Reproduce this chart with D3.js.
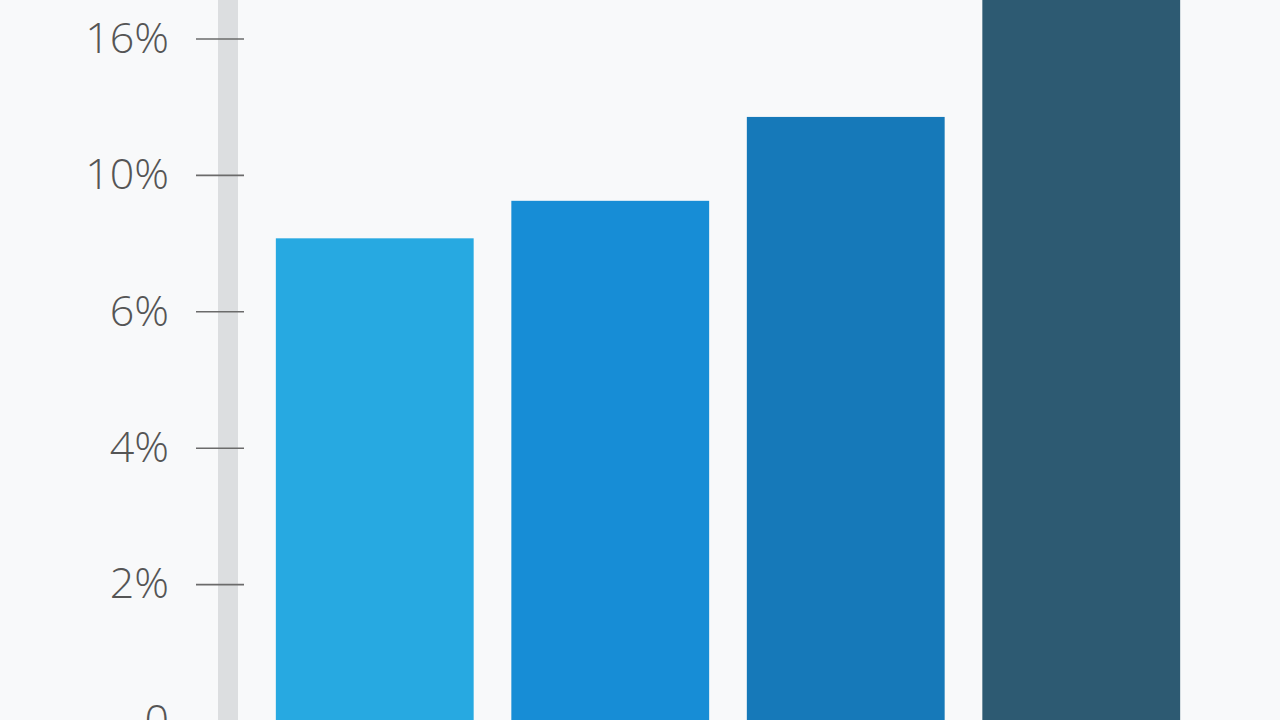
<!DOCTYPE html>
<html>
<head>
<meta charset="utf-8">
<script src="https://cdn.jsdelivr.net/npm/d3@7"></script>
<style>
  html, body { margin: 0; padding: 0; background: #f8f9fa; overflow: hidden; }
  svg { display: block; }
</style>
</head>
<body>
<div id="chart"></div>
<script>
// 데이터 (그림에서 읽은 값, 축 단위)
const categories = ["A", "B", "C", "D"];
const values = [7.07, 7.62, 8.85, 12.0];
const barColors = ["#27a9e1", "#178dd6", "#1679b9", "#2d5a72"];
const tickValues = [0, 2, 4, 6, 8, 10];
const tickLabels = ["0", "2%", "4%", "6%", "10%", "16%"];

const WIDTH = 1280, HEIGHT = 720;

const svg = d3.select('#chart')
  .append('svg')
  .attr('width', WIDTH)
  .attr('height', HEIGHT)
  .style('background', '#f8f9fa');

// 스케일
const x = d3.scaleBand()
  .domain(categories)
  .range([257, 1199])
  .paddingInner(0.16)
  .paddingOuter(0.08);

const y = d3.scaleLinear()
  .domain([0, 10])
  .range([720.5, 38.5]);

// 축 뒤 회색 띠
svg.append('rect')
  .attr('x', 218).attr('y', 0)
  .attr('width', 20).attr('height', HEIGHT)
  .attr('fill', '#dcdee0');

// 막대
svg.selectAll('.bar')
  .data(values)
  .join('rect')
  .attr('class', 'bar')
  .attr('x', (d, i) => x(categories[i]))
  .attr('y', d => y(d))
  .attr('width', x.bandwidth())
  .attr('height', d => y(0) - y(d) + 10)
  .attr('fill', (d, i) => barColors[i]);

// Y축
const axis = d3.axisLeft(y)
  .tickValues(tickValues)
  .tickFormat((d, i) => tickLabels[i])
  .tickSize(48)
  .tickPadding(27);

const gAxis = svg.append('g')
  .attr('transform', 'translate(244,0)')
  .call(axis);

gAxis.select('.domain').remove();
gAxis.selectAll('.tick line')
  .attr('stroke', '#6b6b6b')
  .attr('stroke-width', 1.6);
gAxis.selectAll('.tick text')
  .attr('fill', '#555')
  .style('font-family', '"Open Sans", "Noto Sans", sans-serif')
  .style('font-size', '43px')
  .style('font-weight', 350);
</script>
</body>
</html>
